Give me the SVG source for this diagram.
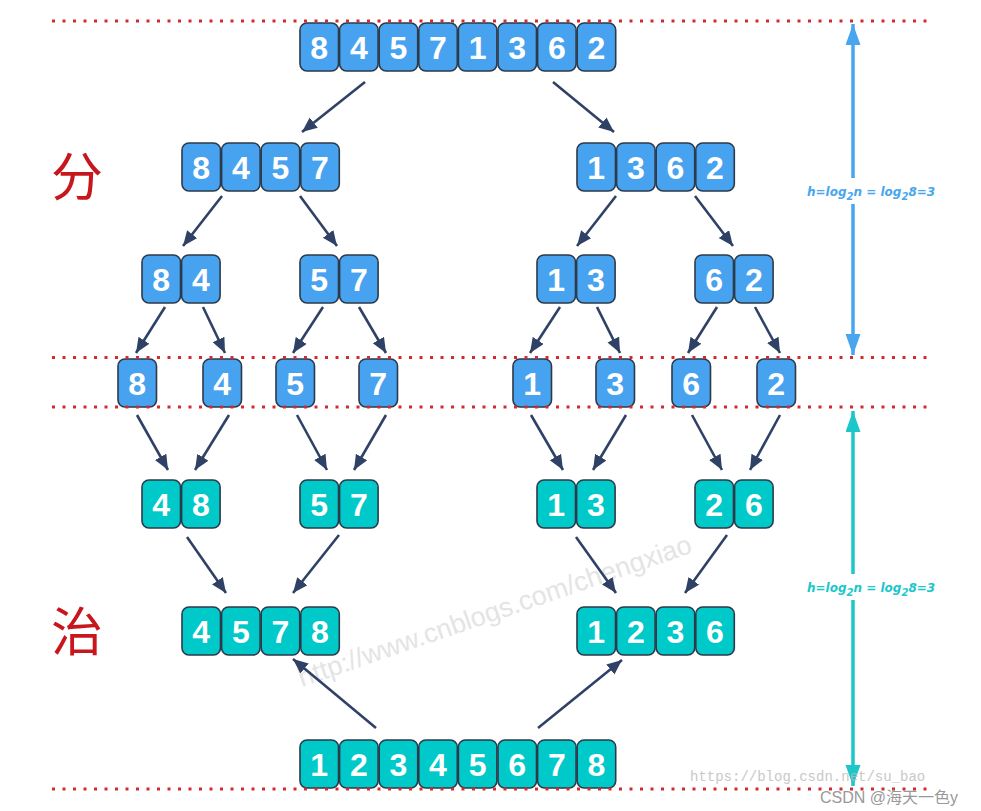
<svg xmlns="http://www.w3.org/2000/svg" width="981" height="811" viewBox="0 0 981 811">
<style>
.b rect{fill:#47a2ef;stroke:#2d3a4a;stroke-width:1.6}
.t rect{fill:#00c9c9;stroke:#2d3a4a;stroke-width:1.6}
.n text{font-family:"Liberation Sans",Arial,sans-serif;font-weight:bold;font-size:32px;fill:#fff;text-anchor:middle}
.dot{stroke:#d42a2e;stroke-width:3;stroke-dasharray:3 7.5;fill:none}
.ar{stroke:#2f4266;stroke-width:2.6;fill:none;marker-end:url(#ah)}
.lbl{font-family:"DejaVu Sans","Liberation Sans",sans-serif;font-weight:bold;font-style:italic;font-size:12px}
</style>
<defs>
<marker id="ah" markerUnits="userSpaceOnUse" markerWidth="16" markerHeight="14" refX="15" refY="6.5" orient="auto"><path d="M0,0 L15,6.5 L0,13 Z" fill="#2f4266"/></marker>
<marker id="bh" markerUnits="userSpaceOnUse" markerWidth="22" markerHeight="16" refX="21" refY="7.5" orient="auto-start-reverse"><path d="M0,0 L21,7.5 L0,15 Z" fill="#47a6ee"/></marker>
<marker id="th" markerUnits="userSpaceOnUse" markerWidth="22" markerHeight="16" refX="21" refY="7.5" orient="auto-start-reverse"><path d="M0,0 L21,7.5 L0,15 Z" fill="#1cc6c9"/></marker>
</defs>
<rect width="981" height="811" fill="#fff"/>

<text x="300" y="684" transform="rotate(-19 310 680)" font-family="Liberation Sans,Arial,sans-serif" font-size="27" fill="#e4e4e4">http://www.cnblogs.com/chengxiao</text>

<g id="connectors">
<line class="ar" x1="365" y1="82" x2="302" y2="132"/>
<line class="ar" x1="553" y1="82" x2="614" y2="132"/>
<line class="ar" x1="222" y1="196" x2="183" y2="246"/>
<line class="ar" x1="300" y1="196" x2="337" y2="246"/>
<line class="ar" x1="616" y1="196" x2="577" y2="246"/>
<line class="ar" x1="695" y1="196" x2="733" y2="246"/>
<line class="ar" x1="165" y1="307" x2="136" y2="353"/>
<line class="ar" x1="203" y1="307" x2="225" y2="353"/>
<line class="ar" x1="323" y1="307" x2="293" y2="353"/>
<line class="ar" x1="359" y1="307" x2="386" y2="353"/>
<line class="ar" x1="560" y1="307" x2="530" y2="353"/>
<line class="ar" x1="597" y1="307" x2="620" y2="353"/>
<line class="ar" x1="717" y1="307" x2="688" y2="353"/>
<line class="ar" x1="755" y1="307" x2="780" y2="353"/>
<line class="ar" x1="137" y1="415" x2="168" y2="470"/>
<line class="ar" x1="229" y1="415" x2="195" y2="470"/>
<line class="ar" x1="297" y1="415" x2="327" y2="470"/>
<line class="ar" x1="386" y1="415" x2="354" y2="470"/>
<line class="ar" x1="531" y1="415" x2="563" y2="470"/>
<line class="ar" x1="626" y1="415" x2="593" y2="470"/>
<line class="ar" x1="692" y1="415" x2="722" y2="470"/>
<line class="ar" x1="780" y1="415" x2="750" y2="470"/>
<line class="ar" x1="187" y1="537" x2="226" y2="593"/>
<line class="ar" x1="339" y1="535" x2="293" y2="593"/>
<line class="ar" x1="576" y1="537" x2="616" y2="593"/>
<line class="ar" x1="727" y1="535" x2="685" y2="593"/>
<line class="ar" x1="376" y1="728" x2="293" y2="659"/>
<line class="ar" x1="538" y1="728" x2="622" y2="660"/>
</g>

<g id="node-r1" class="n b">
<rect x="300" y="23" width="38.5" height="48" rx="7"/><text x="319.2" y="59">8</text>
<rect x="339.6" y="23" width="38.5" height="48" rx="7"/><text x="358.8" y="59">4</text>
<rect x="379.2" y="23" width="38.5" height="48" rx="7"/><text x="398.4" y="59">5</text>
<rect x="418.8" y="23" width="38.5" height="48" rx="7"/><text x="438" y="59">7</text>
<rect x="458.4" y="23" width="38.5" height="48" rx="7"/><text x="477.6" y="59">1</text>
<rect x="498" y="23" width="38.5" height="48" rx="7"/><text x="517.2" y="59">3</text>
<rect x="537.6" y="23" width="38.5" height="48" rx="7"/><text x="556.8" y="59">6</text>
<rect x="577.2" y="23" width="38.5" height="48" rx="7"/><text x="596.4" y="59">2</text>
</g>

<g id="node-r2a" class="n b">
<rect x="182" y="143" width="38.5" height="48" rx="7"/><text x="201.2" y="179">8</text>
<rect x="221.6" y="143" width="38.5" height="48" rx="7"/><text x="240.8" y="179">4</text>
<rect x="261.2" y="143" width="38.5" height="48" rx="7"/><text x="280.4" y="179">5</text>
<rect x="300.8" y="143" width="38.5" height="48" rx="7"/><text x="320" y="179">7</text>
</g>
<g id="node-r2b" class="n b">
<rect x="577" y="143" width="38.5" height="48" rx="7"/><text x="596.2" y="179">1</text>
<rect x="616.6" y="143" width="38.5" height="48" rx="7"/><text x="635.8" y="179">3</text>
<rect x="656.2" y="143" width="38.5" height="48" rx="7"/><text x="675.4" y="179">6</text>
<rect x="695.8" y="143" width="38.5" height="48" rx="7"/><text x="715" y="179">2</text>
</g>

<g id="node-r3a" class="n b">
<rect x="142" y="255" width="38.5" height="48" rx="7"/><text x="161.2" y="291">8</text>
<rect x="181.6" y="255" width="38.5" height="48" rx="7"/><text x="200.8" y="291">4</text>
</g>
<g id="node-r3b" class="n b">
<rect x="300" y="255" width="38.5" height="48" rx="7"/><text x="319.2" y="291">5</text>
<rect x="339.6" y="255" width="38.5" height="48" rx="7"/><text x="358.8" y="291">7</text>
</g>
<g id="node-r3c" class="n b">
<rect x="537" y="255" width="38.5" height="48" rx="7"/><text x="556.2" y="291">1</text>
<rect x="576.6" y="255" width="38.5" height="48" rx="7"/><text x="595.8" y="291">3</text>
</g>
<g id="node-r3d" class="n b">
<rect x="695" y="255" width="38.5" height="48" rx="7"/><text x="714.2" y="291">6</text>
<rect x="734.6" y="255" width="38.5" height="48" rx="7"/><text x="753.8" y="291">2</text>
</g>

<g id="node-s8" class="n b"><rect x="118" y="359" width="38.5" height="48" rx="7"/><text x="137.2" y="395">8</text></g>
<g id="node-s4" class="n b"><rect x="203" y="359" width="38.5" height="48" rx="7"/><text x="222.2" y="395">4</text></g>
<g id="node-s5" class="n b"><rect x="276" y="359" width="38.5" height="48" rx="7"/><text x="295.2" y="395">5</text></g>
<g id="node-s7" class="n b"><rect x="359" y="359" width="38.5" height="48" rx="7"/><text x="378.2" y="395">7</text></g>
<g id="node-s1" class="n b"><rect x="513" y="359" width="38.5" height="48" rx="7"/><text x="532.2" y="395">1</text></g>
<g id="node-s3" class="n b"><rect x="596" y="359" width="38.5" height="48" rx="7"/><text x="615.2" y="395">3</text></g>
<g id="node-s6" class="n b"><rect x="672" y="359" width="38.5" height="48" rx="7"/><text x="691.2" y="395">6</text></g>
<g id="node-s2" class="n b"><rect x="757" y="359" width="38.5" height="48" rx="7"/><text x="776.2" y="395">2</text></g>

<g id="node-r5a" class="n t">
<rect x="142" y="480" width="38.5" height="48" rx="7"/><text x="161.2" y="516">4</text>
<rect x="181.6" y="480" width="38.5" height="48" rx="7"/><text x="200.8" y="516">8</text>
</g>
<g id="node-r5b" class="n t">
<rect x="300" y="480" width="38.5" height="48" rx="7"/><text x="319.2" y="516">5</text>
<rect x="339.6" y="480" width="38.5" height="48" rx="7"/><text x="358.8" y="516">7</text>
</g>
<g id="node-r5c" class="n t">
<rect x="537" y="480" width="38.5" height="48" rx="7"/><text x="556.2" y="516">1</text>
<rect x="576.6" y="480" width="38.5" height="48" rx="7"/><text x="595.8" y="516">3</text>
</g>
<g id="node-r5d" class="n t">
<rect x="695" y="480" width="38.5" height="48" rx="7"/><text x="714.2" y="516">2</text>
<rect x="734.6" y="480" width="38.5" height="48" rx="7"/><text x="753.8" y="516">6</text>
</g>

<g id="node-r6a" class="n t">
<rect x="182" y="607" width="38.5" height="48" rx="7"/><text x="201.2" y="643">4</text>
<rect x="221.6" y="607" width="38.5" height="48" rx="7"/><text x="240.8" y="643">5</text>
<rect x="261.2" y="607" width="38.5" height="48" rx="7"/><text x="280.4" y="643">7</text>
<rect x="300.8" y="607" width="38.5" height="48" rx="7"/><text x="320" y="643">8</text>
</g>
<g id="node-r6b" class="n t">
<rect x="577" y="607" width="38.5" height="48" rx="7"/><text x="596.2" y="643">1</text>
<rect x="616.6" y="607" width="38.5" height="48" rx="7"/><text x="635.8" y="643">2</text>
<rect x="656.2" y="607" width="38.5" height="48" rx="7"/><text x="675.4" y="643">3</text>
<rect x="695.8" y="607" width="38.5" height="48" rx="7"/><text x="715" y="643">6</text>
</g>

<g id="node-r7" class="n t">
<rect x="300" y="740" width="38.5" height="48" rx="7"/><text x="319.2" y="776">1</text>
<rect x="339.6" y="740" width="38.5" height="48" rx="7"/><text x="358.8" y="776">2</text>
<rect x="379.2" y="740" width="38.5" height="48" rx="7"/><text x="398.4" y="776">3</text>
<rect x="418.8" y="740" width="38.5" height="48" rx="7"/><text x="438" y="776">4</text>
<rect x="458.4" y="740" width="38.5" height="48" rx="7"/><text x="477.6" y="776">5</text>
<rect x="498" y="740" width="38.5" height="48" rx="7"/><text x="517.2" y="776">6</text>
<rect x="537.6" y="740" width="38.5" height="48" rx="7"/><text x="556.8" y="776">7</text>
<rect x="577.2" y="740" width="38.5" height="48" rx="7"/><text x="596.4" y="776">8</text>
</g>

<g id="dotted-lines">
<line class="dot" x1="52" y1="21" x2="932" y2="21"/>
<line class="dot" x1="52" y1="357.5" x2="932" y2="357.5"/>
<line class="dot" x1="52" y1="407" x2="932" y2="407"/>
<line class="dot" x1="52" y1="789" x2="932" y2="789"/>
</g>

<g id="height-divide">
<line x1="853" y1="24" x2="853" y2="355" stroke="#47a6ee" stroke-width="3.5" marker-start="url(#bh)" marker-end="url(#bh)"/>
<rect x="804" y="178" width="130" height="26" fill="#fff"/>
<text class="lbl" x="807" y="196" fill="#47a6ee">h=log<tspan font-size="10" dy="4">2</tspan><tspan dy="-4">n = log</tspan><tspan font-size="10" dy="4">2</tspan><tspan dy="-4">8=3</tspan></text>
</g>
<g id="height-conquer">
<line x1="853" y1="411" x2="853" y2="786" stroke="#1cc6c9" stroke-width="3.5" marker-start="url(#th)" marker-end="url(#th)"/>
<rect x="804" y="574" width="130" height="26" fill="#fff"/>
<text class="lbl" x="807" y="592" fill="#1cc6c9">h=log<tspan font-size="10" dy="4">2</tspan><tspan dy="-4">n = log</tspan><tspan font-size="10" dy="4">2</tspan><tspan dy="-4">8=3</tspan></text>
</g>

<text x="77" y="196" font-family="Noto Sans CJK SC,sans-serif" font-size="52" fill="#c8161d" text-anchor="middle">分</text>
<text x="77" y="651" font-family="Noto Sans CJK SC,sans-serif" font-size="52" fill="#c8161d" text-anchor="middle">治</text>

<text x="690" y="781" font-family="Liberation Mono,monospace" font-size="14" fill="#bbb" opacity="0.8">https://blog.csdn.net/su_bao</text>
<text x="820" y="803" font-family="Liberation Sans,Noto Sans CJK SC,sans-serif" font-size="16" fill="#999">CSDN @海天一色y</text>
</svg>
